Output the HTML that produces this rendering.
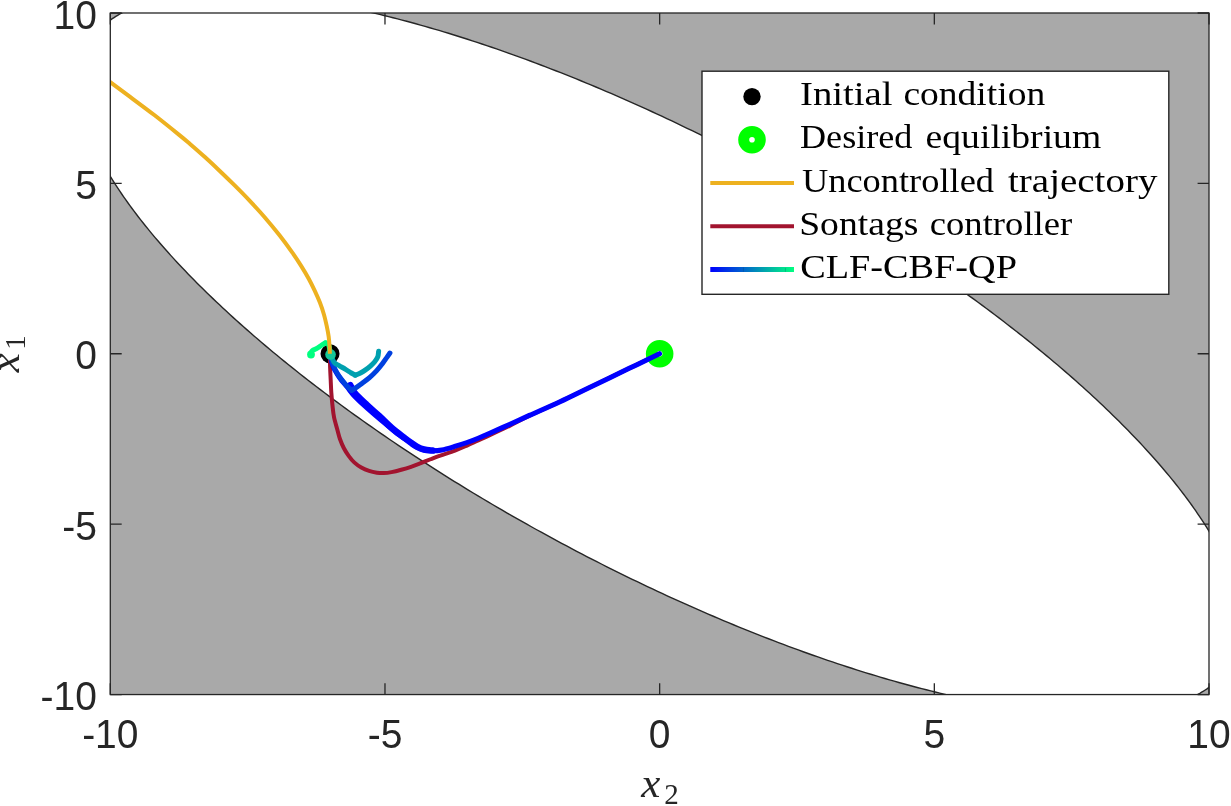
<!DOCTYPE html>
<html><head><meta charset="utf-8"><title>Phase plot</title>
<style>
html,body{margin:0;padding:0;background:#fff;overflow:hidden;}
svg{display:block;}
.tick{font-family:"Liberation Sans",Arial,Helvetica,sans-serif;font-size:40.6px;fill:#262626;}
.leg{font-family:"Liberation Serif","Times New Roman",serif;font-size:34px;fill:#000;}
.math{font-family:"Liberation Serif","Times New Roman",serif;font-style:italic;fill:#262626;}
.sub{font-family:"Liberation Serif","Times New Roman",serif;fill:#262626;}
</style></head><body>
<svg width="1231" height="806" viewBox="0 0 1231 806">
<defs>
<clipPath id="ax"><rect x="110.3" y="13.0" width="1098.7" height="681.55"/></clipPath>
<linearGradient id="winter" x1="0" y1="0" x2="1" y2="0">
<stop offset="0" stop-color="#0000ff"/><stop offset="1" stop-color="#00ff80"/>
</linearGradient>
</defs>
<rect width="1231" height="806" fill="#fff"/>
<g clip-path="url(#ax)">
<path d="M110.3 13.0 H1209.0 V694.55 H110.3 Z M865.20 226.27 L869.94 229.22 L874.66 232.18 L879.36 235.14 L884.05 238.12 L888.72 241.11 L893.38 244.10 L898.01 247.10 L902.63 250.11 L907.23 253.13 L911.81 256.16 L916.38 259.19 L920.92 262.23 L925.44 265.28 L929.94 268.33 L934.42 271.39 L938.88 274.46 L943.32 277.53 L947.74 280.61 L952.14 283.70 L956.51 286.79 L960.86 289.88 L965.19 292.98 L969.49 296.09 L973.77 299.19 L978.03 302.31 L982.26 305.42 L986.47 308.54 L990.66 311.67 L994.81 314.80 L998.95 317.93 L1003.05 321.06 L1007.13 324.19 L1011.19 327.33 L1015.22 330.47 L1019.22 333.61 L1023.19 336.76 L1027.14 339.90 L1031.05 343.05 L1034.94 346.19 L1038.80 349.34 L1042.63 352.49 L1046.44 355.63 L1050.21 358.78 L1053.95 361.93 L1057.67 365.07 L1061.35 368.22 L1065.00 371.36 L1068.62 374.50 L1072.21 377.65 L1075.77 380.79 L1079.30 383.92 L1082.79 387.06 L1086.26 390.19 L1089.69 393.32 L1093.09 396.45 L1096.45 399.57 L1099.78 402.69 L1103.08 405.81 L1106.34 408.92 L1109.57 412.03 L1112.77 415.13 L1115.93 418.23 L1119.06 421.32 L1122.15 424.41 L1125.21 427.50 L1128.23 430.57 L1131.21 433.65 L1134.16 436.71 L1137.08 439.77 L1139.95 442.82 L1142.79 445.87 L1145.60 448.91 L1148.36 451.94 L1151.09 454.97 L1153.78 457.98 L1156.44 460.99 L1159.05 463.99 L1161.63 466.99 L1164.17 469.97 L1166.68 472.94 L1169.14 475.91 L1171.56 478.87 L1173.95 481.81 L1176.29 484.75 L1178.60 487.68 L1180.87 490.59 L1183.10 493.50 L1185.28 496.40 L1187.43 499.28 L1189.54 502.16 L1191.61 505.02 L1193.63 507.87 L1195.62 510.71 L1197.56 513.54 L1199.47 516.35 L1201.33 519.16 L1203.15 521.95 L1204.93 524.72 L1206.67 527.49 L1208.37 530.24 L1210.03 532.98 L1211.64 535.70 L1213.21 538.41 L1214.74 541.11 L1216.23 543.79 L1217.67 546.46 L1219.08 549.11 L1220.43 551.75 L1221.75 554.37 L1223.03 556.98 L1224.26 559.57 L1225.45 562.15 L1226.59 564.71 L1227.69 567.26 L1228.75 569.78 L1229.77 572.30 L1230.74 574.79 L1231.67 577.27 L1232.55 579.73 L1233.39 582.18 L1234.19 584.60 L1234.94 587.01 L1235.66 589.40 L1236.32 591.78 L1236.94 594.13 L1237.52 596.47 L1238.06 598.79 L1238.55 601.09 L1238.99 603.37 L1239.39 605.63 L1239.75 607.87 L1240.07 610.10 L1240.34 612.30 L1240.56 614.49 L1240.74 616.65 L1240.88 618.80 L1240.97 620.92 L1241.02 623.02 L1241.02 625.11 L1240.98 627.17 L1240.90 629.21 L1240.77 631.23 L1240.60 633.23 L1240.38 635.21 L1240.12 637.17 L1239.81 639.11 L1239.46 641.02 L1239.07 642.91 L1238.63 644.78 L1238.15 646.63 L1237.62 648.45 L1237.05 650.26 L1236.44 652.04 L1235.78 653.80 L1235.08 655.53 L1234.33 657.24 L1233.54 658.93 L1232.71 660.60 L1231.83 662.24 L1230.91 663.86 L1229.95 665.45 L1228.94 667.03 L1227.89 668.57 L1226.79 670.10 L1225.66 671.60 L1224.48 673.07 L1223.25 674.52 L1221.99 675.95 L1220.68 677.35 L1219.32 678.73 L1217.93 680.08 L1216.49 681.41 L1215.01 682.71 L1213.49 683.99 L1211.93 685.24 L1210.32 686.47 L1208.67 687.67 L1206.98 688.85 L1205.25 690.00 L1203.48 691.13 L1201.66 692.22 L1199.81 693.30 L1197.91 694.35 L1195.97 695.37 L1194.00 696.37 L1191.98 697.34 L1189.92 698.28 L1187.82 699.20 L1185.68 700.09 L1183.49 700.95 L1181.27 701.79 L1179.01 702.61 L1176.71 703.39 L1174.38 704.15 L1172.00 704.88 L1169.58 705.59 L1167.12 706.27 L1164.63 706.92 L1162.10 707.54 L1159.52 708.14 L1156.91 708.71 L1154.27 709.26 L1151.58 709.77 L1148.86 710.26 L1146.10 710.73 L1143.30 711.16 L1140.47 711.57 L1137.60 711.95 L1134.69 712.30 L1131.75 712.63 L1128.77 712.93 L1125.76 713.20 L1122.70 713.45 L1119.62 713.66 L1116.50 713.85 L1113.34 714.02 L1110.15 714.15 L1106.93 714.26 L1103.67 714.34 L1100.38 714.39 L1097.05 714.42 L1093.70 714.41 L1090.30 714.38 L1086.88 714.33 L1083.42 714.24 L1079.93 714.13 L1076.41 713.99 L1072.86 713.82 L1069.27 713.63 L1065.66 713.40 L1062.01 713.16 L1058.33 712.88 L1054.63 712.57 L1050.89 712.24 L1047.12 711.88 L1043.32 711.50 L1039.50 711.08 L1035.64 710.64 L1031.76 710.18 L1027.85 709.68 L1023.91 709.16 L1019.94 708.61 L1015.94 708.04 L1011.92 707.43 L1007.87 706.80 L1003.79 706.15 L999.69 705.46 L995.56 704.75 L991.41 704.01 L987.23 703.25 L983.03 702.46 L978.80 701.64 L974.55 700.80 L970.27 699.93 L965.97 699.03 L961.64 698.11 L957.30 697.16 L952.93 696.19 L948.54 695.19 L944.12 694.16 L939.69 693.11 L935.23 692.03 L930.75 690.92 L926.26 689.79 L921.74 688.64 L917.20 687.46 L912.64 686.25 L908.06 685.02 L903.47 683.76 L898.85 682.48 L894.22 681.17 L889.57 679.84 L884.90 678.48 L880.21 677.10 L875.51 675.69 L870.79 674.26 L866.06 672.81 L861.30 671.33 L856.54 669.82 L851.76 668.29 L846.96 666.74 L842.15 665.17 L837.33 663.57 L832.49 661.94 L827.64 660.30 L822.78 658.63 L817.90 656.94 L813.01 655.22 L808.11 653.48 L803.20 651.72 L798.28 649.93 L793.35 648.13 L788.41 646.30 L783.45 644.44 L778.49 642.57 L773.52 640.67 L768.54 638.76 L763.55 636.82 L758.56 634.86 L753.55 632.87 L748.54 630.87 L743.53 628.85 L738.50 626.80 L733.47 624.73 L728.44 622.65 L723.40 620.54 L718.35 618.41 L713.30 616.26 L708.25 614.09 L703.19 611.91 L698.13 609.70 L693.07 607.47 L688.00 605.22 L682.93 602.96 L677.86 600.67 L672.79 598.37 L667.72 596.05 L662.65 593.71 L657.57 591.35 L652.50 588.97 L647.43 586.58 L642.35 584.17 L637.28 581.74 L632.21 579.29 L627.15 576.82 L622.08 574.34 L617.02 571.84 L611.96 569.33 L606.91 566.80 L601.86 564.25 L596.81 561.69 L591.77 559.11 L586.74 556.51 L581.71 553.90 L576.68 551.27 L571.66 548.63 L566.65 545.98 L561.65 543.31 L556.65 540.62 L551.66 537.92 L546.68 535.21 L541.71 532.48 L536.74 529.74 L531.79 526.99 L526.84 524.22 L521.91 521.44 L516.99 518.65 L512.07 515.85 L507.17 513.03 L502.28 510.20 L497.40 507.36 L492.54 504.50 L487.69 501.64 L482.85 498.76 L478.02 495.87 L473.21 492.98 L468.41 490.07 L463.62 487.15 L458.86 484.22 L454.10 481.28 L449.36 478.33 L444.64 475.37 L439.94 472.41 L435.25 469.43 L430.58 466.44 L425.92 463.45 L421.29 460.45 L416.67 457.44 L412.07 454.42 L407.49 451.39 L402.92 448.36 L398.38 445.32 L393.86 442.27 L389.36 439.22 L384.88 436.16 L380.42 433.09 L375.98 430.02 L371.56 426.94 L367.16 423.85 L362.79 420.76 L358.44 417.67 L354.11 414.57 L349.81 411.46 L345.53 408.36 L341.27 405.24 L337.04 402.13 L332.83 399.01 L328.64 395.88 L324.49 392.75 L320.35 389.62 L316.25 386.49 L312.17 383.36 L308.11 380.22 L304.08 377.08 L300.08 373.94 L296.11 370.79 L292.16 367.65 L288.25 364.50 L284.36 361.36 L280.50 358.21 L276.67 355.06 L272.86 351.92 L269.09 348.77 L265.35 345.62 L261.63 342.48 L257.95 339.33 L254.30 336.19 L250.68 333.05 L247.09 329.90 L243.53 326.76 L240.00 323.63 L236.51 320.49 L233.04 317.36 L229.61 314.23 L226.21 311.10 L222.85 307.98 L219.52 304.86 L216.22 301.74 L212.96 298.63 L209.73 295.52 L206.53 292.42 L203.37 289.32 L200.24 286.23 L197.15 283.14 L194.09 280.05 L191.07 276.98 L188.09 273.90 L185.14 270.84 L182.22 267.78 L179.35 264.73 L176.51 261.68 L173.70 258.64 L170.94 255.61 L168.21 252.58 L165.52 249.57 L162.86 246.56 L160.25 243.56 L157.67 240.56 L155.13 237.58 L152.62 234.61 L150.16 231.64 L147.74 228.68 L145.35 225.74 L143.01 222.80 L140.70 219.87 L138.43 216.96 L136.20 214.05 L134.02 211.15 L131.87 208.27 L129.76 205.39 L127.69 202.53 L125.67 199.68 L123.68 196.84 L121.74 194.01 L119.83 191.20 L117.97 188.39 L116.15 185.60 L114.37 182.83 L112.63 180.06 L110.93 177.31 L109.27 174.57 L107.66 171.85 L106.09 169.14 L104.56 166.44 L103.07 163.76 L101.63 161.09 L100.22 158.44 L98.87 155.80 L97.55 153.18 L96.27 150.57 L95.04 147.98 L93.85 145.40 L92.71 142.84 L91.61 140.29 L90.55 137.77 L89.53 135.25 L88.56 132.76 L87.63 130.28 L86.75 127.82 L85.91 125.37 L85.11 122.95 L84.36 120.54 L83.64 118.15 L82.98 115.77 L82.36 113.42 L81.78 111.08 L81.24 108.76 L80.75 106.46 L80.31 104.18 L79.91 101.92 L79.55 99.68 L79.23 97.45 L78.96 95.25 L78.74 93.06 L78.56 90.90 L78.42 88.75 L78.33 86.63 L78.28 84.53 L78.28 82.44 L78.32 80.38 L78.40 78.34 L78.53 76.32 L78.70 74.32 L78.92 72.34 L79.18 70.38 L79.49 68.44 L79.84 66.53 L80.23 64.64 L80.67 62.77 L81.15 60.92 L81.68 59.10 L82.25 57.29 L82.86 55.51 L83.52 53.75 L84.22 52.02 L84.97 50.31 L85.76 48.62 L86.59 46.95 L87.47 45.31 L88.39 43.69 L89.35 42.10 L90.36 40.52 L91.41 38.98 L92.51 37.45 L93.64 35.95 L94.82 34.48 L96.05 33.03 L97.31 31.60 L98.62 30.20 L99.98 28.82 L101.37 27.47 L102.81 26.14 L104.29 24.84 L105.81 23.56 L107.37 22.31 L108.98 21.08 L110.63 19.88 L112.32 18.70 L114.05 17.55 L115.82 16.42 L117.64 15.33 L119.49 14.25 L121.39 13.20 L123.33 12.18 L125.30 11.18 L127.32 10.21 L129.38 9.27 L131.48 8.35 L133.62 7.46 L135.81 6.60 L138.03 5.76 L140.29 4.94 L142.59 4.16 L144.92 3.40 L147.30 2.67 L149.72 1.96 L152.18 1.28 L154.67 0.63 L157.20 0.01 L159.78 -0.59 L162.39 -1.16 L165.03 -1.71 L167.72 -2.22 L170.44 -2.71 L173.20 -3.18 L176.00 -3.61 L178.83 -4.02 L181.70 -4.40 L184.61 -4.75 L187.55 -5.08 L190.53 -5.38 L193.54 -5.65 L196.60 -5.90 L199.68 -6.11 L202.80 -6.30 L205.96 -6.47 L209.15 -6.60 L212.37 -6.71 L215.63 -6.79 L218.92 -6.84 L222.25 -6.87 L225.60 -6.86 L229.00 -6.83 L232.42 -6.78 L235.88 -6.69 L239.37 -6.58 L242.89 -6.44 L246.44 -6.27 L250.03 -6.08 L253.64 -5.85 L257.29 -5.61 L260.97 -5.33 L264.67 -5.02 L268.41 -4.69 L272.18 -4.33 L275.98 -3.95 L279.80 -3.53 L283.66 -3.09 L287.54 -2.63 L291.45 -2.13 L295.39 -1.61 L299.36 -1.06 L303.36 -0.49 L307.38 0.12 L311.43 0.75 L315.51 1.40 L319.61 2.09 L323.74 2.80 L327.89 3.54 L332.07 4.30 L336.27 5.09 L340.50 5.91 L344.75 6.75 L349.03 7.62 L353.33 8.52 L357.66 9.44 L362.00 10.39 L366.37 11.36 L370.76 12.36 L375.18 13.39 L379.61 14.44 L384.07 15.52 L388.55 16.63 L393.04 17.76 L397.56 18.91 L402.10 20.09 L406.66 21.30 L411.24 22.53 L415.83 23.79 L420.45 25.07 L425.08 26.38 L429.73 27.71 L434.40 29.07 L439.09 30.45 L443.79 31.86 L448.51 33.29 L453.24 34.74 L458.00 36.22 L462.76 37.73 L467.54 39.26 L472.34 40.81 L477.15 42.38 L481.97 43.98 L486.81 45.61 L491.66 47.25 L496.52 48.92 L501.40 50.61 L506.29 52.33 L511.19 54.07 L516.10 55.83 L521.02 57.62 L525.95 59.42 L530.89 61.25 L535.85 63.11 L540.81 64.98 L545.78 66.88 L550.76 68.79 L555.75 70.73 L560.74 72.69 L565.75 74.68 L570.76 76.68 L575.77 78.70 L580.80 80.75 L585.83 82.82 L590.86 84.90 L595.90 87.01 L600.95 89.14 L606.00 91.29 L611.05 93.46 L616.11 95.64 L621.17 97.85 L626.23 100.08 L631.30 102.33 L636.37 104.59 L641.44 106.88 L646.51 109.18 L651.58 111.50 L656.65 113.84 L661.73 116.20 L666.80 118.58 L671.87 120.97 L676.95 123.38 L682.02 125.81 L687.09 128.26 L692.15 130.73 L697.22 133.21 L702.28 135.71 L707.34 138.22 L712.39 140.75 L717.44 143.30 L722.49 145.86 L727.53 148.44 L732.56 151.04 L737.59 153.65 L742.62 156.28 L747.64 158.92 L752.65 161.57 L757.65 164.24 L762.65 166.93 L767.64 169.63 L772.62 172.34 L777.59 175.07 L782.56 177.81 L787.51 180.56 L792.46 183.33 L797.39 186.11 L802.31 188.90 L807.23 191.70 L812.13 194.52 L817.02 197.35 L821.90 200.19 L826.76 203.05 L831.61 205.91 L836.45 208.79 L841.28 211.68 L846.09 214.57 L850.89 217.48 L855.68 220.40 L860.44 223.33 L865.20 226.27 Z" fill="#a9a9a9" fill-rule="evenodd" stroke="none"/>
<path d="M865.20 226.27 L869.94 229.22 L874.66 232.18 L879.36 235.14 L884.05 238.12 L888.72 241.11 L893.38 244.10 L898.01 247.10 L902.63 250.11 L907.23 253.13 L911.81 256.16 L916.38 259.19 L920.92 262.23 L925.44 265.28 L929.94 268.33 L934.42 271.39 L938.88 274.46 L943.32 277.53 L947.74 280.61 L952.14 283.70 L956.51 286.79 L960.86 289.88 L965.19 292.98 L969.49 296.09 L973.77 299.19 L978.03 302.31 L982.26 305.42 L986.47 308.54 L990.66 311.67 L994.81 314.80 L998.95 317.93 L1003.05 321.06 L1007.13 324.19 L1011.19 327.33 L1015.22 330.47 L1019.22 333.61 L1023.19 336.76 L1027.14 339.90 L1031.05 343.05 L1034.94 346.19 L1038.80 349.34 L1042.63 352.49 L1046.44 355.63 L1050.21 358.78 L1053.95 361.93 L1057.67 365.07 L1061.35 368.22 L1065.00 371.36 L1068.62 374.50 L1072.21 377.65 L1075.77 380.79 L1079.30 383.92 L1082.79 387.06 L1086.26 390.19 L1089.69 393.32 L1093.09 396.45 L1096.45 399.57 L1099.78 402.69 L1103.08 405.81 L1106.34 408.92 L1109.57 412.03 L1112.77 415.13 L1115.93 418.23 L1119.06 421.32 L1122.15 424.41 L1125.21 427.50 L1128.23 430.57 L1131.21 433.65 L1134.16 436.71 L1137.08 439.77 L1139.95 442.82 L1142.79 445.87 L1145.60 448.91 L1148.36 451.94 L1151.09 454.97 L1153.78 457.98 L1156.44 460.99 L1159.05 463.99 L1161.63 466.99 L1164.17 469.97 L1166.68 472.94 L1169.14 475.91 L1171.56 478.87 L1173.95 481.81 L1176.29 484.75 L1178.60 487.68 L1180.87 490.59 L1183.10 493.50 L1185.28 496.40 L1187.43 499.28 L1189.54 502.16 L1191.61 505.02 L1193.63 507.87 L1195.62 510.71 L1197.56 513.54 L1199.47 516.35 L1201.33 519.16 L1203.15 521.95 L1204.93 524.72 L1206.67 527.49 L1208.37 530.24 L1210.03 532.98 L1211.64 535.70 L1213.21 538.41 L1214.74 541.11 L1216.23 543.79 L1217.67 546.46 L1219.08 549.11 L1220.43 551.75 L1221.75 554.37 L1223.03 556.98 L1224.26 559.57 L1225.45 562.15 L1226.59 564.71 L1227.69 567.26 L1228.75 569.78 L1229.77 572.30 L1230.74 574.79 L1231.67 577.27 L1232.55 579.73 L1233.39 582.18 L1234.19 584.60 L1234.94 587.01 L1235.66 589.40 L1236.32 591.78 L1236.94 594.13 L1237.52 596.47 L1238.06 598.79 L1238.55 601.09 L1238.99 603.37 L1239.39 605.63 L1239.75 607.87 L1240.07 610.10 L1240.34 612.30 L1240.56 614.49 L1240.74 616.65 L1240.88 618.80 L1240.97 620.92 L1241.02 623.02 L1241.02 625.11 L1240.98 627.17 L1240.90 629.21 L1240.77 631.23 L1240.60 633.23 L1240.38 635.21 L1240.12 637.17 L1239.81 639.11 L1239.46 641.02 L1239.07 642.91 L1238.63 644.78 L1238.15 646.63 L1237.62 648.45 L1237.05 650.26 L1236.44 652.04 L1235.78 653.80 L1235.08 655.53 L1234.33 657.24 L1233.54 658.93 L1232.71 660.60 L1231.83 662.24 L1230.91 663.86 L1229.95 665.45 L1228.94 667.03 L1227.89 668.57 L1226.79 670.10 L1225.66 671.60 L1224.48 673.07 L1223.25 674.52 L1221.99 675.95 L1220.68 677.35 L1219.32 678.73 L1217.93 680.08 L1216.49 681.41 L1215.01 682.71 L1213.49 683.99 L1211.93 685.24 L1210.32 686.47 L1208.67 687.67 L1206.98 688.85 L1205.25 690.00 L1203.48 691.13 L1201.66 692.22 L1199.81 693.30 L1197.91 694.35 L1195.97 695.37 L1194.00 696.37 L1191.98 697.34 L1189.92 698.28 L1187.82 699.20 L1185.68 700.09 L1183.49 700.95 L1181.27 701.79 L1179.01 702.61 L1176.71 703.39 L1174.38 704.15 L1172.00 704.88 L1169.58 705.59 L1167.12 706.27 L1164.63 706.92 L1162.10 707.54 L1159.52 708.14 L1156.91 708.71 L1154.27 709.26 L1151.58 709.77 L1148.86 710.26 L1146.10 710.73 L1143.30 711.16 L1140.47 711.57 L1137.60 711.95 L1134.69 712.30 L1131.75 712.63 L1128.77 712.93 L1125.76 713.20 L1122.70 713.45 L1119.62 713.66 L1116.50 713.85 L1113.34 714.02 L1110.15 714.15 L1106.93 714.26 L1103.67 714.34 L1100.38 714.39 L1097.05 714.42 L1093.70 714.41 L1090.30 714.38 L1086.88 714.33 L1083.42 714.24 L1079.93 714.13 L1076.41 713.99 L1072.86 713.82 L1069.27 713.63 L1065.66 713.40 L1062.01 713.16 L1058.33 712.88 L1054.63 712.57 L1050.89 712.24 L1047.12 711.88 L1043.32 711.50 L1039.50 711.08 L1035.64 710.64 L1031.76 710.18 L1027.85 709.68 L1023.91 709.16 L1019.94 708.61 L1015.94 708.04 L1011.92 707.43 L1007.87 706.80 L1003.79 706.15 L999.69 705.46 L995.56 704.75 L991.41 704.01 L987.23 703.25 L983.03 702.46 L978.80 701.64 L974.55 700.80 L970.27 699.93 L965.97 699.03 L961.64 698.11 L957.30 697.16 L952.93 696.19 L948.54 695.19 L944.12 694.16 L939.69 693.11 L935.23 692.03 L930.75 690.92 L926.26 689.79 L921.74 688.64 L917.20 687.46 L912.64 686.25 L908.06 685.02 L903.47 683.76 L898.85 682.48 L894.22 681.17 L889.57 679.84 L884.90 678.48 L880.21 677.10 L875.51 675.69 L870.79 674.26 L866.06 672.81 L861.30 671.33 L856.54 669.82 L851.76 668.29 L846.96 666.74 L842.15 665.17 L837.33 663.57 L832.49 661.94 L827.64 660.30 L822.78 658.63 L817.90 656.94 L813.01 655.22 L808.11 653.48 L803.20 651.72 L798.28 649.93 L793.35 648.13 L788.41 646.30 L783.45 644.44 L778.49 642.57 L773.52 640.67 L768.54 638.76 L763.55 636.82 L758.56 634.86 L753.55 632.87 L748.54 630.87 L743.53 628.85 L738.50 626.80 L733.47 624.73 L728.44 622.65 L723.40 620.54 L718.35 618.41 L713.30 616.26 L708.25 614.09 L703.19 611.91 L698.13 609.70 L693.07 607.47 L688.00 605.22 L682.93 602.96 L677.86 600.67 L672.79 598.37 L667.72 596.05 L662.65 593.71 L657.57 591.35 L652.50 588.97 L647.43 586.58 L642.35 584.17 L637.28 581.74 L632.21 579.29 L627.15 576.82 L622.08 574.34 L617.02 571.84 L611.96 569.33 L606.91 566.80 L601.86 564.25 L596.81 561.69 L591.77 559.11 L586.74 556.51 L581.71 553.90 L576.68 551.27 L571.66 548.63 L566.65 545.98 L561.65 543.31 L556.65 540.62 L551.66 537.92 L546.68 535.21 L541.71 532.48 L536.74 529.74 L531.79 526.99 L526.84 524.22 L521.91 521.44 L516.99 518.65 L512.07 515.85 L507.17 513.03 L502.28 510.20 L497.40 507.36 L492.54 504.50 L487.69 501.64 L482.85 498.76 L478.02 495.87 L473.21 492.98 L468.41 490.07 L463.62 487.15 L458.86 484.22 L454.10 481.28 L449.36 478.33 L444.64 475.37 L439.94 472.41 L435.25 469.43 L430.58 466.44 L425.92 463.45 L421.29 460.45 L416.67 457.44 L412.07 454.42 L407.49 451.39 L402.92 448.36 L398.38 445.32 L393.86 442.27 L389.36 439.22 L384.88 436.16 L380.42 433.09 L375.98 430.02 L371.56 426.94 L367.16 423.85 L362.79 420.76 L358.44 417.67 L354.11 414.57 L349.81 411.46 L345.53 408.36 L341.27 405.24 L337.04 402.13 L332.83 399.01 L328.64 395.88 L324.49 392.75 L320.35 389.62 L316.25 386.49 L312.17 383.36 L308.11 380.22 L304.08 377.08 L300.08 373.94 L296.11 370.79 L292.16 367.65 L288.25 364.50 L284.36 361.36 L280.50 358.21 L276.67 355.06 L272.86 351.92 L269.09 348.77 L265.35 345.62 L261.63 342.48 L257.95 339.33 L254.30 336.19 L250.68 333.05 L247.09 329.90 L243.53 326.76 L240.00 323.63 L236.51 320.49 L233.04 317.36 L229.61 314.23 L226.21 311.10 L222.85 307.98 L219.52 304.86 L216.22 301.74 L212.96 298.63 L209.73 295.52 L206.53 292.42 L203.37 289.32 L200.24 286.23 L197.15 283.14 L194.09 280.05 L191.07 276.98 L188.09 273.90 L185.14 270.84 L182.22 267.78 L179.35 264.73 L176.51 261.68 L173.70 258.64 L170.94 255.61 L168.21 252.58 L165.52 249.57 L162.86 246.56 L160.25 243.56 L157.67 240.56 L155.13 237.58 L152.62 234.61 L150.16 231.64 L147.74 228.68 L145.35 225.74 L143.01 222.80 L140.70 219.87 L138.43 216.96 L136.20 214.05 L134.02 211.15 L131.87 208.27 L129.76 205.39 L127.69 202.53 L125.67 199.68 L123.68 196.84 L121.74 194.01 L119.83 191.20 L117.97 188.39 L116.15 185.60 L114.37 182.83 L112.63 180.06 L110.93 177.31 L109.27 174.57 L107.66 171.85 L106.09 169.14 L104.56 166.44 L103.07 163.76 L101.63 161.09 L100.22 158.44 L98.87 155.80 L97.55 153.18 L96.27 150.57 L95.04 147.98 L93.85 145.40 L92.71 142.84 L91.61 140.29 L90.55 137.77 L89.53 135.25 L88.56 132.76 L87.63 130.28 L86.75 127.82 L85.91 125.37 L85.11 122.95 L84.36 120.54 L83.64 118.15 L82.98 115.77 L82.36 113.42 L81.78 111.08 L81.24 108.76 L80.75 106.46 L80.31 104.18 L79.91 101.92 L79.55 99.68 L79.23 97.45 L78.96 95.25 L78.74 93.06 L78.56 90.90 L78.42 88.75 L78.33 86.63 L78.28 84.53 L78.28 82.44 L78.32 80.38 L78.40 78.34 L78.53 76.32 L78.70 74.32 L78.92 72.34 L79.18 70.38 L79.49 68.44 L79.84 66.53 L80.23 64.64 L80.67 62.77 L81.15 60.92 L81.68 59.10 L82.25 57.29 L82.86 55.51 L83.52 53.75 L84.22 52.02 L84.97 50.31 L85.76 48.62 L86.59 46.95 L87.47 45.31 L88.39 43.69 L89.35 42.10 L90.36 40.52 L91.41 38.98 L92.51 37.45 L93.64 35.95 L94.82 34.48 L96.05 33.03 L97.31 31.60 L98.62 30.20 L99.98 28.82 L101.37 27.47 L102.81 26.14 L104.29 24.84 L105.81 23.56 L107.37 22.31 L108.98 21.08 L110.63 19.88 L112.32 18.70 L114.05 17.55 L115.82 16.42 L117.64 15.33 L119.49 14.25 L121.39 13.20 L123.33 12.18 L125.30 11.18 L127.32 10.21 L129.38 9.27 L131.48 8.35 L133.62 7.46 L135.81 6.60 L138.03 5.76 L140.29 4.94 L142.59 4.16 L144.92 3.40 L147.30 2.67 L149.72 1.96 L152.18 1.28 L154.67 0.63 L157.20 0.01 L159.78 -0.59 L162.39 -1.16 L165.03 -1.71 L167.72 -2.22 L170.44 -2.71 L173.20 -3.18 L176.00 -3.61 L178.83 -4.02 L181.70 -4.40 L184.61 -4.75 L187.55 -5.08 L190.53 -5.38 L193.54 -5.65 L196.60 -5.90 L199.68 -6.11 L202.80 -6.30 L205.96 -6.47 L209.15 -6.60 L212.37 -6.71 L215.63 -6.79 L218.92 -6.84 L222.25 -6.87 L225.60 -6.86 L229.00 -6.83 L232.42 -6.78 L235.88 -6.69 L239.37 -6.58 L242.89 -6.44 L246.44 -6.27 L250.03 -6.08 L253.64 -5.85 L257.29 -5.61 L260.97 -5.33 L264.67 -5.02 L268.41 -4.69 L272.18 -4.33 L275.98 -3.95 L279.80 -3.53 L283.66 -3.09 L287.54 -2.63 L291.45 -2.13 L295.39 -1.61 L299.36 -1.06 L303.36 -0.49 L307.38 0.12 L311.43 0.75 L315.51 1.40 L319.61 2.09 L323.74 2.80 L327.89 3.54 L332.07 4.30 L336.27 5.09 L340.50 5.91 L344.75 6.75 L349.03 7.62 L353.33 8.52 L357.66 9.44 L362.00 10.39 L366.37 11.36 L370.76 12.36 L375.18 13.39 L379.61 14.44 L384.07 15.52 L388.55 16.63 L393.04 17.76 L397.56 18.91 L402.10 20.09 L406.66 21.30 L411.24 22.53 L415.83 23.79 L420.45 25.07 L425.08 26.38 L429.73 27.71 L434.40 29.07 L439.09 30.45 L443.79 31.86 L448.51 33.29 L453.24 34.74 L458.00 36.22 L462.76 37.73 L467.54 39.26 L472.34 40.81 L477.15 42.38 L481.97 43.98 L486.81 45.61 L491.66 47.25 L496.52 48.92 L501.40 50.61 L506.29 52.33 L511.19 54.07 L516.10 55.83 L521.02 57.62 L525.95 59.42 L530.89 61.25 L535.85 63.11 L540.81 64.98 L545.78 66.88 L550.76 68.79 L555.75 70.73 L560.74 72.69 L565.75 74.68 L570.76 76.68 L575.77 78.70 L580.80 80.75 L585.83 82.82 L590.86 84.90 L595.90 87.01 L600.95 89.14 L606.00 91.29 L611.05 93.46 L616.11 95.64 L621.17 97.85 L626.23 100.08 L631.30 102.33 L636.37 104.59 L641.44 106.88 L646.51 109.18 L651.58 111.50 L656.65 113.84 L661.73 116.20 L666.80 118.58 L671.87 120.97 L676.95 123.38 L682.02 125.81 L687.09 128.26 L692.15 130.73 L697.22 133.21 L702.28 135.71 L707.34 138.22 L712.39 140.75 L717.44 143.30 L722.49 145.86 L727.53 148.44 L732.56 151.04 L737.59 153.65 L742.62 156.28 L747.64 158.92 L752.65 161.57 L757.65 164.24 L762.65 166.93 L767.64 169.63 L772.62 172.34 L777.59 175.07 L782.56 177.81 L787.51 180.56 L792.46 183.33 L797.39 186.11 L802.31 188.90 L807.23 191.70 L812.13 194.52 L817.02 197.35 L821.90 200.19 L826.76 203.05 L831.61 205.91 L836.45 208.79 L841.28 211.68 L846.09 214.57 L850.89 217.48 L855.68 220.40 L860.44 223.33 L865.20 226.27 Z" fill="none" stroke="#262626" stroke-width="1.4"/>
</g>

<g clip-path="url(#ax)" fill="none" stroke-linecap="butt" stroke-linejoin="round">
<circle cx="330.04" cy="353.77" r="9.5" fill="#000" stroke="none"/>
<circle cx="659.65" cy="353.77" r="8.3" fill="none" stroke="#00ff00" stroke-width="11"/>
<path d="M329.90 354.90 C329.93 356.92 329.97 362.82 330.10 367.00 C330.23 371.18 330.50 375.76 330.70 380.00 C330.90 384.24 331.01 388.28 331.30 392.41 C331.59 396.55 331.96 400.68 332.41 404.81 C332.86 408.94 333.18 413.02 334.02 417.22 C334.86 421.42 336.46 426.41 337.44 430.00 C338.42 433.59 338.81 435.76 339.87 438.77 C340.93 441.77 342.31 445.19 343.77 448.03 C345.23 450.87 346.86 453.39 348.65 455.83 C350.44 458.27 352.38 460.70 354.49 462.65 C356.60 464.60 358.88 466.14 361.32 467.52 C363.76 468.90 366.51 470.08 369.11 470.94 C371.71 471.80 374.47 472.33 376.91 472.69 C379.35 473.05 381.29 473.18 383.73 473.08 C386.17 472.98 388.60 472.66 391.53 472.11 C394.45 471.56 398.03 470.65 401.28 469.77 C404.53 468.89 407.77 467.94 411.02 466.84 C414.27 465.73 417.52 464.41 420.77 463.14 C424.02 461.87 427.26 460.51 430.51 459.24 C433.76 457.97 436.18 456.98 440.26 455.54 C444.34 454.10 450.54 452.26 454.98 450.60 C459.42 448.94 463.03 447.30 466.90 445.60 C470.77 443.90 474.40 442.13 478.20 440.40 C482.00 438.67 484.40 437.67 489.70 435.20 C495.00 432.73 503.38 428.83 510.00 425.60 C516.62 422.37 521.07 419.78 529.40 415.80 C537.73 411.82 550.07 406.38 560.00 401.70 C569.93 397.02 577.55 393.22 589.00 387.70 C600.45 382.18 616.95 374.27 628.70 368.60 C640.45 362.93 654.37 356.18 659.50 353.70" stroke="#a2142f" stroke-width="4"/>
<path d="M329.97 353.63 C330.48 355.69 331.41 362.02 333.00 366.00 C334.59 369.98 337.17 374.03 339.50 377.50 C341.83 380.97 344.47 383.65 347.00 386.80 C349.53 389.95 352.20 393.63 354.70 396.40 C357.20 399.17 358.92 400.57 362.00 403.40 C365.08 406.23 369.47 410.15 373.20 413.40 C376.93 416.65 380.68 419.77 384.40 422.90 C388.12 426.03 391.78 429.35 395.50 432.20 C399.22 435.05 404.28 438.38 406.70 440.00 C409.12 441.62 408.32 440.70 410.00 441.90 C411.68 443.10 414.53 445.87 416.80 447.20 C419.07 448.53 420.95 449.30 423.60 449.90 C426.25 450.50 429.67 450.78 432.70 450.80 C435.73 450.82 438.00 450.77 441.80 450.00 C445.60 449.23 451.30 447.45 455.50 446.20 C459.70 444.95 463.22 443.83 467.00 442.50 C470.78 441.17 474.42 439.73 478.20 438.20 C481.98 436.67 484.40 435.63 489.70 433.30 C495.00 430.97 503.38 427.18 510.00 424.20 C516.62 421.22 521.07 419.15 529.40 415.40 C537.73 411.65 550.07 406.32 560.00 401.70 C569.93 397.08 577.55 393.22 589.00 387.70 C600.45 382.18 616.95 374.27 628.70 368.60 C640.45 362.93 654.37 356.18 659.50 353.70" stroke="#0000ff" stroke-width="5" stroke-linecap="round"/>
<path d="M350.40 385.20 C351.10 386.47 351.87 389.52 354.60 392.80 C357.33 396.08 362.70 401.03 366.80 404.90 C370.90 408.77 375.07 412.18 379.20 416.00 C383.33 419.82 387.45 424.20 391.60 427.80 C395.75 431.40 400.95 435.17 404.10 437.60 C407.25 440.03 408.30 440.85 410.50 442.40 C412.70 443.95 415.05 445.72 417.30 446.90 C419.55 448.08 421.43 448.88 424.00 449.50 C426.57 450.12 431.25 450.42 432.70 450.60" stroke="#0000ff" stroke-width="6.5" stroke-linecap="round"/>
<path d="M329.97 353.63 C330.48 355.48 331.78 361.45 333.01 364.75 C334.24 368.05 335.77 370.76 337.36 373.44 C338.95 376.12 340.90 378.66 342.57 380.83 C344.24 383.00 345.83 384.88 347.35 386.47 C348.87 388.06 350.97 389.73 351.69 390.38 " stroke="#0040df" stroke-width="5" stroke-linecap="round"/>
<path d="M351.69 390.38 C352.49 389.87 354.66 388.57 356.47 387.34 C358.28 386.11 360.38 384.62 362.55 383.00 C364.72 381.38 367.18 379.64 369.50 377.61 C371.82 375.58 374.29 373.19 376.46 370.83 C378.63 368.47 380.80 365.69 382.54 363.45 C384.28 361.21 385.65 359.11 386.88 357.37 C388.11 355.63 389.41 353.75 389.92 353.02" stroke="#0040df" stroke-width="5" stroke-linecap="round"/>
<path d="M329.97 353.63 C330.70 355.12 332.80 360.58 334.32 362.58 C335.84 364.58 337.29 364.53 339.10 365.62 C340.91 366.71 343.15 367.87 345.18 369.10 C347.21 370.33 349.59 372.00 351.26 373.01 C352.93 374.02 354.52 374.82 355.17 375.18" stroke="#00a0af" stroke-width="5" stroke-linecap="round"/>
<path d="M355.17 375.18 C355.97 374.85 358.28 374.02 359.95 373.18 C361.62 372.34 363.42 371.33 365.16 370.14 C366.90 368.95 368.78 367.47 370.37 366.06 C371.96 364.65 373.49 363.23 374.72 361.71 C375.95 360.19 377.11 358.67 377.76 356.93 C378.41 355.19 378.49 352.23 378.63 351.29" stroke="#00a0af" stroke-width="5" stroke-linecap="round"/>
<path d="M329.86 353.99 C329.81 353.25 329.70 350.83 329.58 349.53 C329.46 348.23 329.45 347.15 329.13 346.17 C328.81 345.19 328.25 344.22 327.63 343.66 C327.01 343.10 325.76 342.96 325.39 342.82" stroke="#00ff80" stroke-width="5" stroke-linecap="round"/>
<path d="M325.39 342.82 C324.78 343.21 322.83 344.46 321.76 345.17 C320.69 345.88 319.90 346.48 318.97 347.07 C318.04 347.66 317.10 348.26 316.17 348.74 C315.24 349.22 314.14 349.49 313.38 349.97 C312.62 350.46 311.99 350.98 311.59 351.65 C311.19 352.32 311.08 353.60 310.98 353.99" stroke="#00ff80" stroke-width="5" stroke-linecap="round"/>
<circle cx="311.0" cy="354.5" r="3.9" fill="#00ff80" stroke="none"/>
<circle cx="330.54" cy="354.38" r="5.3" fill="#14c89a" stroke="none"/>
<path d="M100.00 74.60 C101.76 75.90 105.61 78.73 110.58 82.41 C115.55 86.09 122.47 91.19 129.81 96.67 C137.15 102.15 146.36 108.88 154.63 115.29 C162.90 121.70 173.54 130.35 179.44 135.14 C185.34 139.92 185.76 140.34 190.00 144.00 C194.24 147.66 199.93 152.61 204.89 157.10 C209.85 161.59 214.82 166.23 219.78 170.95 C224.74 175.67 229.70 180.46 234.66 185.40 C239.62 190.34 244.59 195.33 249.55 200.60 C254.51 205.87 259.48 211.25 264.44 217.00 C269.40 222.75 274.68 229.16 279.33 235.10 C283.98 241.04 288.69 247.50 292.35 252.66 C296.01 257.82 298.55 261.72 301.28 266.07 C304.01 270.42 306.50 274.63 308.73 278.73 C310.97 282.83 312.83 286.68 314.69 290.65 C316.55 294.62 318.37 298.60 319.91 302.57 C321.45 306.54 322.78 310.52 323.93 314.49 C325.08 318.46 326.00 322.69 326.80 326.41 C327.60 330.13 328.23 333.36 328.70 336.83 C329.17 340.30 329.41 344.45 329.60 347.26 C329.79 350.07 329.81 352.63 329.85 353.70" stroke="#edb120" stroke-width="4"/>
</g>
<g stroke="#262626" stroke-width="1.3" fill="none">
<rect x="110.3" y="13.0" width="1098.7" height="681.55"/>
<path d="M110.30 694.55 v-11.4 M110.30 13.0 v11.4 M110.3 694.55 h11.4 M1209.0 694.55 h-11.4"/>
<path d="M384.98 694.55 v-11.4 M384.98 13.0 v11.4 M110.3 524.16 h11.4 M1209.0 524.16 h-11.4"/>
<path d="M659.65 694.55 v-11.4 M659.65 13.0 v11.4 M110.3 353.77 h11.4 M1209.0 353.77 h-11.4"/>
<path d="M934.33 694.55 v-11.4 M934.33 13.0 v11.4 M110.3 183.39 h11.4 M1209.0 183.39 h-11.4"/>
<path d="M1209.00 694.55 v-11.4 M1209.00 13.0 v11.4 M110.3 13.00 h11.4 M1209.0 13.00 h-11.4"/>
</g>
<text class="tick" transform="translate(110.30,747.9) scale(0.96,1)" text-anchor="middle">-10</text>
<text class="tick" transform="translate(96.9,710.15) scale(0.96,1)" text-anchor="end">-10</text>
<text class="tick" transform="translate(384.98,747.9) scale(0.96,1)" text-anchor="middle">-5</text>
<text class="tick" transform="translate(96.9,539.76) scale(0.96,1)" text-anchor="end">-5</text>
<text class="tick" transform="translate(659.65,747.9) scale(0.96,1)" text-anchor="middle">0</text>
<text class="tick" transform="translate(96.9,369.38) scale(0.96,1)" text-anchor="end">0</text>
<text class="tick" transform="translate(934.33,747.9) scale(0.96,1)" text-anchor="middle">5</text>
<text class="tick" transform="translate(96.9,198.99) scale(0.96,1)" text-anchor="end">5</text>
<text class="tick" transform="translate(1209.00,747.9) scale(0.96,1)" text-anchor="middle">10</text>
<text class="tick" transform="translate(96.9,28.60) scale(0.96,1)" text-anchor="end">10</text>
<text class="math" x="641.2" y="797.4" font-size="43">x</text><text class="sub" x="664.2" y="803.5" font-size="29">2</text>
<g transform="translate(19,372.2) rotate(-90)"><text class="math" x="0" y="0" font-size="43">x</text><text class="sub" x="22.5" y="6" font-size="29">1</text></g>
<rect x="702.0" y="71.2" width="466.79999999999995" height="223.10000000000002" fill="#fff" stroke="#262626" stroke-width="1.4"/>
<circle cx="752" cy="96.6" r="8.7" fill="#000"/>
<circle cx="752" cy="139.8" r="8.3" fill="none" stroke="#00ff00" stroke-width="11"/>
<path d="M710.3 183.0 H794" stroke="#edb120" stroke-width="4"/>
<path d="M710.3 226.2 H794" stroke="#a2142f" stroke-width="4"/>
<path d="M710.3 266.9 H794 v5 H710.3 Z" fill="url(#winter)"/>
<path d="M743.4 267.4 v4.5 M785.4 267.9 v4" stroke="#003060" stroke-opacity="0.35" stroke-width="0.7" fill="none"/>
<text class="leg" x="800.00" y="105.1" textLength="92.60" lengthAdjust="spacingAndGlyphs">Initial</text>
<text class="leg" x="903.40" y="105.1" textLength="141.80" lengthAdjust="spacingAndGlyphs">condition</text>
<text class="leg" x="800.00" y="148.3" textLength="112.40" lengthAdjust="spacingAndGlyphs">Desired</text>
<text class="leg" x="925.60" y="148.3" textLength="175.60" lengthAdjust="spacingAndGlyphs">equilibrium</text>
<text class="leg" x="802.00" y="191.5" textLength="192.00" lengthAdjust="spacingAndGlyphs">Uncontrolled</text>
<text class="leg" x="1008.00" y="191.5" textLength="149.40" lengthAdjust="spacingAndGlyphs">trajectory</text>
<text class="leg" x="799.20" y="234.7" textLength="119.20" lengthAdjust="spacingAndGlyphs">Sontags</text>
<text class="leg" x="929.80" y="234.7" textLength="142.40" lengthAdjust="spacingAndGlyphs">controller</text>
<text class="leg" x="800.20" y="277.9" textLength="216.80" lengthAdjust="spacingAndGlyphs">CLF-CBF-QP</text>
</svg></body></html>
